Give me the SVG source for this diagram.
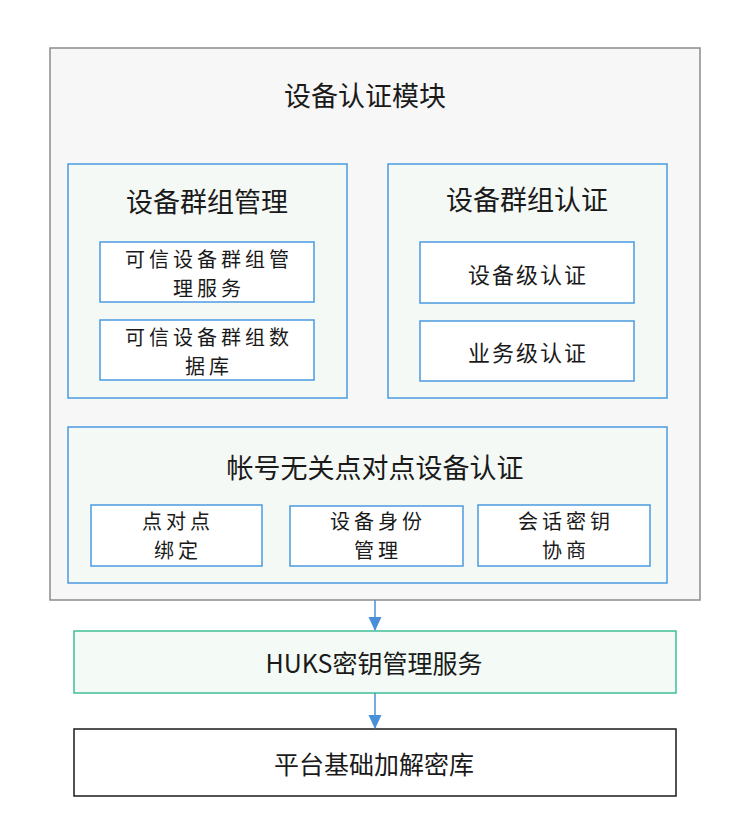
<svg xmlns="http://www.w3.org/2000/svg" width="749" height="840" viewBox="0 0 749 840">
<style>
text{font-family:"Noto Sans CJK SC","Noto Sans",sans-serif;fill:#1a1a1a;text-anchor:middle;dominant-baseline:central}
.grp{fill:#f5f9f5;stroke:#4a9be0;stroke-width:1.5}
.item{fill:#ffffff;stroke:#4a9be0;stroke-width:1.5}
.t1{font-size:27px}
.t2{font-size:27px}
.t3{font-size:22px;letter-spacing:2px}
.t3b{font-size:20px;letter-spacing:4px}
.t4{font-size:25px}
.conn{stroke:#4a90d9;stroke-width:1.5;fill:none}
</style>
<defs>
<marker id="arr" markerWidth="14" markerHeight="14" refX="13" refY="7" orient="auto" markerUnits="userSpaceOnUse" viewBox="0 0 14 14">
<path d="M0,0.5 L14,7 L0,13.5 z" fill="#4a90d9"/>
</marker>
</defs>
<rect width="749" height="840" fill="#ffffff"/>
<g id="module">
<rect x="50" y="48" width="650" height="552" fill="#f7f7f7" stroke="#8c8c8c" stroke-width="1.5"/>
<text x="365" y="94" class="t1">设备认证模块</text>
</g>
<g id="group-mgmt">
<rect class="grp" x="68" y="164" width="279" height="234"/>
<text x="207" y="200" class="t2">设备群组管理</text>
</g>
<g id="trusted-service">
<rect class="item" x="100" y="242" width="214" height="60"/>
<text class="t3b" x="209" y="258.5">可信设备群组管</text>
<text class="t3b" x="209" y="287.5">理服务</text>
</g>
<g id="trusted-db">
<rect class="item" x="100" y="320" width="214" height="60"/>
<text class="t3b" x="209" y="336.5">可信设备群组数</text>
<text class="t3b" x="209" y="365.5">据库</text>
</g>
<g id="group-auth">
<rect class="grp" x="388" y="164" width="279" height="234"/>
<text x="527" y="198" class="t2">设备群组认证</text>
</g>
<g id="device-level">
<rect class="item" x="420" y="242" width="214" height="61"/>
<text x="528" y="273" class="t3">设备级认证</text>
</g>
<g id="service-level">
<rect class="item" x="420" y="321" width="214" height="60"/>
<text x="528" y="351" class="t3">业务级认证</text>
</g>
<g id="p2p-auth">
<rect class="grp" x="68" y="427" width="599" height="156"/>
<text x="375" y="466" class="t2">帐号无关点对点设备认证</text>
</g>
<g id="p2p-bind">
<rect class="item" x="91" y="505" width="171" height="61"/>
<text class="t3b" x="178" y="520.5">点对点</text>
<text class="t3b" x="178" y="549.5">绑定</text>
</g>
<g id="identity-mgmt">
<rect class="item" x="290" y="506" width="173" height="60"/>
<text class="t3b" x="378" y="520.5">设备身份</text>
<text class="t3b" x="378" y="549.5">管理</text>
</g>
<g id="session-key">
<rect class="item" x="478" y="505" width="172" height="61"/>
<text class="t3b" x="566" y="520.5">会话密钥</text>
<text class="t3b" x="566" y="549.5">协商</text>
</g>
<g id="huks">
<rect x="74" y="631" width="602" height="62" fill="#f4faf6" stroke="#3fbf98" stroke-width="1.5"/>
<text x="374" y="662" class="t4">HUKS密钥管理服务</text>
</g>
<g id="crypto-lib">
<rect x="74" y="729" width="602" height="67" fill="#ffffff" stroke="#1a1a1a" stroke-width="1.5"/>
<text x="374" y="763" class="t4">平台基础加解密库</text>
</g>
<g id="connectors">
<line class="conn" x1="375" y1="600" x2="375" y2="630" marker-end="url(#arr)"/>
<line class="conn" x1="375" y1="693" x2="375" y2="728" marker-end="url(#arr)"/>
</g>
</svg>
